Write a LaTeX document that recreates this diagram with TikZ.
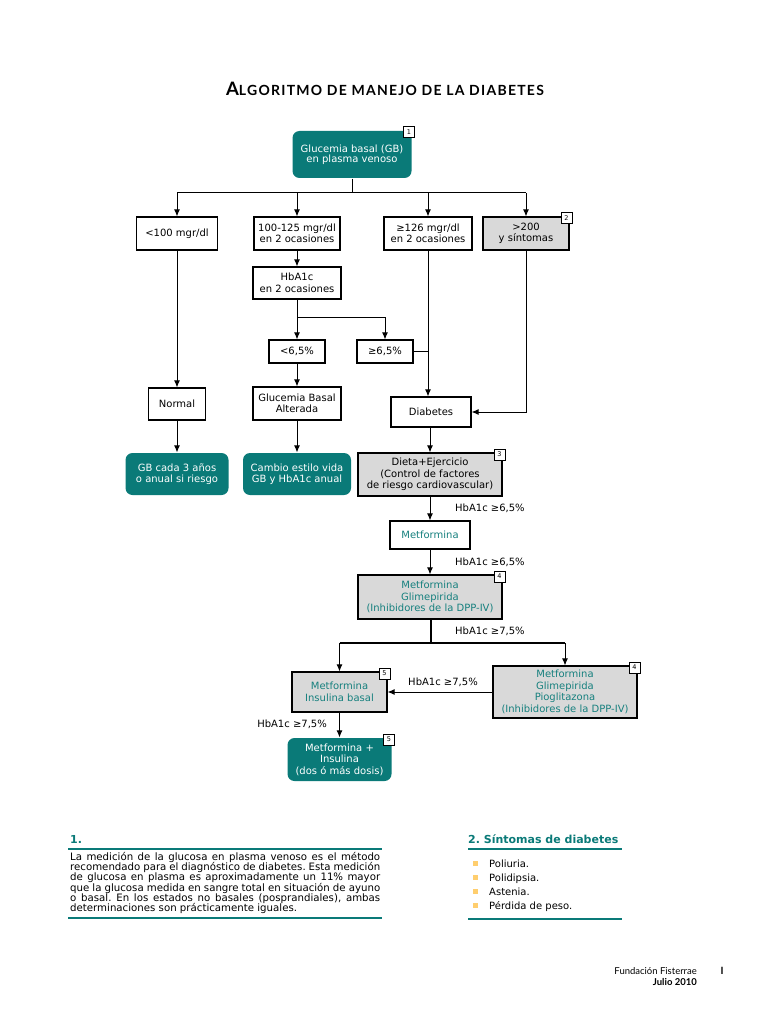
\documentclass[tikz,border=0pt]{standalone}
\usepackage{fontspec}
\setmainfont{DejaVu Sans}
\newfontfamily\titlefont{Lato}
\newfontfamily\titlespaced{Lato}[LetterSpace=9]
\usetikzlibrary{arrows.meta}
\definecolor{tealbox}{RGB}{10,122,120}
\definecolor{tealtxt}{RGB}{22,128,126}
\definecolor{boxgray}{RGB}{217,217,217}
\definecolor{bulletc}{RGB}{255,206,110}
\frenchspacing
\newcommand{\bdfont}{\fontsize{10}{11.5}\selectfont}
\newcommand{\topfont}{\fontsize{10}{10.5}\selectfont}
\newcommand{\parfont}{\fontsize{10.2}{10.2}\selectfont}
\newcommand{\lstfont}{\fontsize{10}{10.4}\selectfont}
\tikzset{
  base/.style={font=\bdfont, align=center, inner sep=0pt, line width=1.1pt},
  wbox/.style={base, draw, fill=white},
  gbox/.style={base, draw, fill=boxgray},
  tbox/.style={base, fill=tealbox, text=white, rounded corners=7pt},
  badge/.style={draw, fill=white, minimum size=11pt, inner sep=0pt, font=\fontsize{6.5}{7}\selectfont, line width=0.9pt, xshift=-3pt, yshift=-2pt},
  arr/.style={-{Latex[length=7pt,width=6pt]}, line width=1pt},
  ln/.style={line width=1pt},
  busln/.style={line width=1.8pt},
  lbl/.style={font=\bdfont, inner sep=0pt},
  para/.style={font=\parfont, inner sep=0pt, anchor=base west},
  lst/.style={font=\lstfont, inner sep=0pt, anchor=base west},
  rule/.style={draw=tealbox, line width=1.4pt},
  bul/.style={fill=bulletc, minimum size=5pt, inner sep=0pt}
}
\begin{document}
\begin{tikzpicture}[x=1pt,y=-1pt]
\useasboundingbox[fill=white] (0,0) rectangle (768,1024);

% title
\node[anchor=base, inner sep=0pt] (title) at (385,96) {\titlespaced\bfseries\fontsize{18.5}{18}\selectfont A\fontsize{14}{14}\selectfont LGORITMO DE MANEJO DE LA DIABETES};

% nodes
\node[tbox, font=\topfont, minimum width=119pt, minimum height=47pt] (top) at (352,154.5) {Glucemia basal (GB)\\en plasma venoso};
\node[wbox, minimum width=81pt, minimum height=33pt] (lt100) at (177,233.5) {<100 mgr/dl};
\node[wbox, minimum width=86pt, minimum height=33pt] (r100) at (297,233.5) {100-125 mgr/dl\\en 2 ocasiones};
\node[wbox, minimum width=88pt, minimum height=33pt] (ge126) at (428,233.5) {≥126 mgr/dl\\en 2 ocasiones};
\node[gbox, minimum width=86pt, minimum height=33pt] (gt200) at (526,233.5) {>200\\y síntomas};
\node[wbox, minimum width=88pt, minimum height=32pt] (hba) at (297,283) {HbA1c\\en 2 ocasiones};
\node[wbox, minimum width=56pt, minimum height=23pt] (lt65) at (297,351.5) {<6,5\%};
\node[wbox, minimum width=56pt, minimum height=23pt] (ge65) at (385,351.5) {≥6,5\%};
\node[wbox, minimum width=57pt, minimum height=32pt] (normal) at (177,404) {Normal};
\node[wbox, minimum width=88pt, minimum height=33pt] (gba) at (297,403.5) {Glucemia Basal\\Alterada};
\node[wbox, minimum width=80pt, minimum height=30pt] (diab) at (431,412) {Diabetes};
\node[tbox, minimum width=103pt, minimum height=42pt] (gb3) at (177,474) {GB cada 3 años\\o anual si riesgo};
\node[tbox, minimum width=108pt, minimum height=42pt] (cambio) at (297,474) {Cambio estilo vida\\GB y HbA1c anual};
\node[gbox, minimum width=144pt, minimum height=43pt] (dieta) at (430,474.5) {Dieta+Ejercicio\\(Control de factores\\de riesgo cardiovascular)};
\node[wbox, minimum width=80pt, minimum height=28pt, text=tealtxt] (metf) at (430,535) {Metformina};
\node[gbox, minimum width=144pt, minimum height=44pt, text=tealtxt] (mg) at (430,597) {Metformina\\Glimepirida\\(Inhibidores de la DPP-IV)};
\node[gbox, minimum width=95pt, minimum height=40pt, text=tealtxt] (mib) at (339.5,692) {Metformina\\Insulina basal};
\node[gbox, minimum width=144pt, minimum height=52pt, text=tealtxt] (mgp) at (565,692) {Metformina\\Glimepirida\\Pioglitazona\\(Inhibidores de la DPP-IV)};
\node[tbox, minimum width=104pt, minimum height=43pt] (mi2) at (339.5,759.5) {Metformina +\\Insulina\\(dos ó más dosis)};

% badges
\node[badge] (b1) at (top.north east) {1};
\node[badge] (b2) at (gt200.north east) {2};
\node[badge] (b3) at (dieta.north east) {3};
\node[badge] (b4) at (mg.north east) {4};
\node[badge] (b5) at (mib.north east) {5};
\node[badge] (b4b) at (mgp.north east) {4};
\node[badge] (b5b) at (mi2.north east) {5};

% connectors
\coordinate (bus1) at (352,193);
\draw[ln] (top.south) -- (bus1);
\draw[ln] (lt100.north |- bus1) -- (gt200.north |- bus1);
\draw[arr] (lt100.north |- bus1) -- (lt100.north);
\draw[arr] (r100.north |- bus1) -- (r100.north);
\draw[arr] (ge126.north |- bus1) -- (ge126.north);
\draw[arr] (gt200.north |- bus1) -- (gt200.north);

\draw[arr] (r100.south) -- (hba.north);
\coordinate (bus3) at (297,317);
\draw[ln] (hba.south) -- (bus3) -- (ge65.north |- bus3);
\draw[arr] (bus3) -- (lt65.north);
\draw[arr] (ge65.north |- bus3) -- (ge65.north);
\draw[ln] (ge65.east) -- (ge65.east -| ge126.south);
\draw[arr] (ge126.south) -- (ge126.south |- diab.north);
\draw[arr] (gt200.south) |- (diab.east);

\draw[arr] (lt100.south) -- (normal.north);
\draw[arr] (normal.south) -- (gb3.north);
\draw[arr] (lt65.south) -- (gba.north);
\draw[arr] (gba.south) -- (cambio.north);
\draw[arr] (diab.south -| dieta.north) -- (dieta.north);

\draw[arr] (dieta.south) -- (metf.north);
\node[lbl, anchor=west] (l1) at (455,508) {HbA1c ≥6,5\%};
\draw[arr] (metf.south) -- (mg.north);
\node[lbl, anchor=west] (l2) at (455,562) {HbA1c ≥6,5\%};
\node[lbl, anchor=west] (l3) at (455,631) {HbA1c ≥7,5\%};

\coordinate (bus2) at (431,643);
\draw[busln] (mg.south -| bus2) -- (bus2);
\draw[busln] (mib.north |- bus2) -- (mgp.north |- bus2);
\draw[arr] (mib.north |- bus2) -- (mib.north);
\draw[arr] (mgp.north |- bus2) -- (mgp.north);
\draw[arr] (mgp.west) -- (mib.east);
\node[lbl] (l4) at (443,682) {HbA1c ≥7,5\%};
\draw[arr] (mib.south) -- (mi2.north);
\node[lbl, anchor=east] (l5) at (327,724) {HbA1c ≥7,5\%};

% note 1
\node[anchor=base west, inner sep=0pt, text=tealbox, font=\bfseries\fontsize{11}{12}\selectfont] (n1) at (70,843.3) {1.};
\draw[rule] (68,849) -- (382,849);
\node[para] (p1) at (70,860.5) {\makebox[310pt][s]{La medición de la glucosa en plasma venoso es el método}};
\node[para] (p2) at (70,870.7) {\makebox[310pt][s]{recomendado para el diagnóstico de diabetes. Esta medición}};
\node[para] (p3) at (70,880.9) {\makebox[310pt][s]{de glucosa en plasma es aproximadamente un 11\% mayor}};
\node[para] (p4) at (70,891.1) {\makebox[310pt][s]{que la glucosa medida en sangre total en situación de ayuno}};
\node[para] (p5) at (70,901.3) {\makebox[310pt][s]{o basal. En los estados no basales (posprandiales), ambas}};
\node[para] (p6) at (70,911.5) {determinaciones son prácticamente iguales.};
\draw[rule] (68,918) -- (382,918);

% note 2
\node[anchor=base west, inner sep=0pt, text=tealbox, font=\bfseries\fontsize{11}{12}\selectfont] (n2) at (468,843) {2. Síntomas de diabetes};
\draw[rule] (468,849) -- (622,849);
\node[bul] (s1) at (475,863.5) {};
\node[bul] (s2) at (475,877.5) {};
\node[bul] (s3) at (475,891.5) {};
\node[bul] (s4) at (475,905.5) {};
\node[lst] (q1) at (489,867) {Poliuria.};
\node[lst] (q2) at (489,881) {Polidipsia.};
\node[lst] (q3) at (489,895) {Astenia.};
\node[lst] (q4) at (489,909) {Pérdida de peso.};
\draw[rule] (468,919) -- (622,919);

% footer
\node[anchor=base east, inner sep=0pt, font=\titlefont\fontsize{9.5}{10}\selectfont] (f1) at (697,974) {Fundación Fisterrae};
\node[anchor=base, inner sep=0pt, font=\titlefont\bfseries\fontsize{10}{10}\selectfont] (f2) at (722,974) {I};
\node[anchor=base east, inner sep=0pt, font=\titlefont\bfseries\fontsize{9.5}{10}\selectfont] (f3) at (697,985.5) {Julio 2010};
\end{tikzpicture}
\end{document}
